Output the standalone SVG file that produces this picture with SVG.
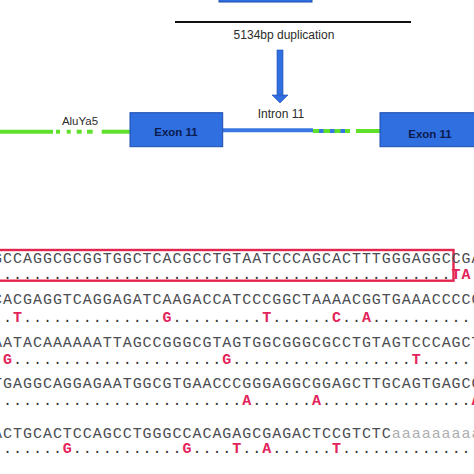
<svg xmlns="http://www.w3.org/2000/svg" width="474" height="474" viewBox="0 0 474 474">
<style>
.lbl{font-family:"Liberation Sans",Arial,sans-serif;fill:#2b2b2b}
.exon{fill:#2f6fe0;stroke:#1c4cae;stroke-width:1}
.exont{font-family:"Liberation Sans",Arial,sans-serif;font-weight:bold;font-size:11.5px;fill:#0b1b4d;text-anchor:middle}
.grn{stroke:#5fe12c;stroke-width:4;fill:none}
.blu{stroke:#3a76e2;stroke-width:4;fill:none}
.seq{font-family:"Liberation Mono","Courier New",monospace;font-size:15px;letter-spacing:0.966px;fill:#4b4d52}
.dot{font-family:"Liberation Mono","Courier New",monospace;font-size:15px;letter-spacing:0.966px;fill:#333}
.r{fill:#e3245a;font-weight:bold}
.lc{fill:#aeb0b2}
</style>
<rect width="474" height="474" fill="#ffffff"/>
<g id="top-block"><rect class="exon" x="219" y="-3" width="93" height="5"/></g>
<g id="connectors">
<line x1="175" y1="22" x2="411" y2="22" stroke="#111" stroke-width="2"/>
<rect x="277" y="50" width="6" height="46" fill="#2f6fe0" stroke="#1c4cae" stroke-width="0.6"/>
<polygon points="272,95 288,95 280,103" fill="#2f6fe0" stroke="#1c4cae" stroke-width="0.6"/>
<line class="grn" x1="0" y1="131.7" x2="53" y2="131.7"/>
<line class="grn" x1="56" y1="131.7" x2="60" y2="131.7"/>
<line class="grn" x1="66.7" y1="131.7" x2="70.7" y2="131.7"/>
<line class="grn" x1="76.7" y1="131.7" x2="81.7" y2="131.7"/>
<line class="grn" x1="87" y1="131.7" x2="92.7" y2="131.7"/>
<line class="grn" x1="101.7" y1="131.7" x2="130" y2="131.7"/>
<line class="blu" x1="223" y1="130.3" x2="313" y2="130.3"/>
<line class="grn" x1="313" y1="131" x2="350" y2="131"/>
<line class="blu" x1="319" y1="131" x2="323.5" y2="131"/>
<line class="blu" x1="330" y1="131" x2="334.5" y2="131"/>
<line class="blu" x1="340.5" y1="131" x2="345" y2="131"/>
<line class="grn" x1="356" y1="131" x2="380" y2="131"/>
</g>
<text class="lbl" x="284" y="39.3" font-size="12" text-anchor="middle">5134bp duplication</text>
<text class="lbl" x="281" y="117.5" font-size="12" text-anchor="middle">Intron 11</text>
<text class="lbl" x="80" y="124.5" font-size="11.5" text-anchor="middle">AluYa5</text>
<g id="exon11-left"><rect class="exon" x="130" y="112.7" width="92.7" height="34"/><text class="exont" x="176" y="135.8">Exon 11</text></g>
<g id="exon11-right"><rect class="exon" x="380" y="112.7" width="100" height="34"/><text class="exont" x="430" y="137.8">Exon 11</text></g>
<g id="alignment">
<rect x="-5" y="250" width="458.5" height="30.7" fill="none" stroke="#e4264f" stroke-width="2.4"/>
<text class="seq" x="-6.91" y="262.5">GCCAGGCGCGGTGGCTCACGCCTGTAATCCCAGCACTTTGGGAGGCCGA</text>
<text class="dot" x="3.06" y="278.5">.............................................<tspan class="r">TA</tspan></text>
<text class="seq" x="-6.91" y="303.5">CACGAGGTCAGGAGATCAAGACCATCCCGGCTAAAACGGTGAAACCCCC</text>
<text class="dot" x="3.06" y="321.5">.<tspan class="r">T</tspan>..............<tspan class="r">G</tspan>.........<tspan class="r">T</tspan>......<tspan class="r">C</tspan>..<tspan class="r">A</tspan>..........</text>
<text class="seq" x="-6.91" y="346.5">AATACAAAAAATTAGCCGGGCGTAGTGGCGGGCGCCTGTAGTCCCAGCT</text>
<text class="dot" x="3.06" y="364"><tspan class="r">G</tspan>.....................<tspan class="r">G</tspan>..................<tspan class="r">T</tspan>.....</text>
<text class="seq" x="-6.91" y="388">TGAGGCAGGAGAATGGCGTGAACCCGGGAGGCGGAGCTTGCAGTGAGCC</text>
<text class="dot" x="3.06" y="404.5">........................<tspan class="r">A</tspan>......<tspan class="r">A</tspan>...............<tspan class="r">A</tspan></text>
<text class="seq" x="-6.91" y="437.5">ACTGCACTCCAGCCTGGGCCACAGAGCGAGACTCCGTCTC<tspan class="lc">aaaaaaaaa</tspan></text>
<text class="dot" x="3.06" y="453">......<tspan class="r">G</tspan>...........<tspan class="r">G</tspan>....<tspan class="r">T</tspan>..<tspan class="r">A</tspan>......<tspan class="r">T</tspan>.............</text>
</g>
</svg>
